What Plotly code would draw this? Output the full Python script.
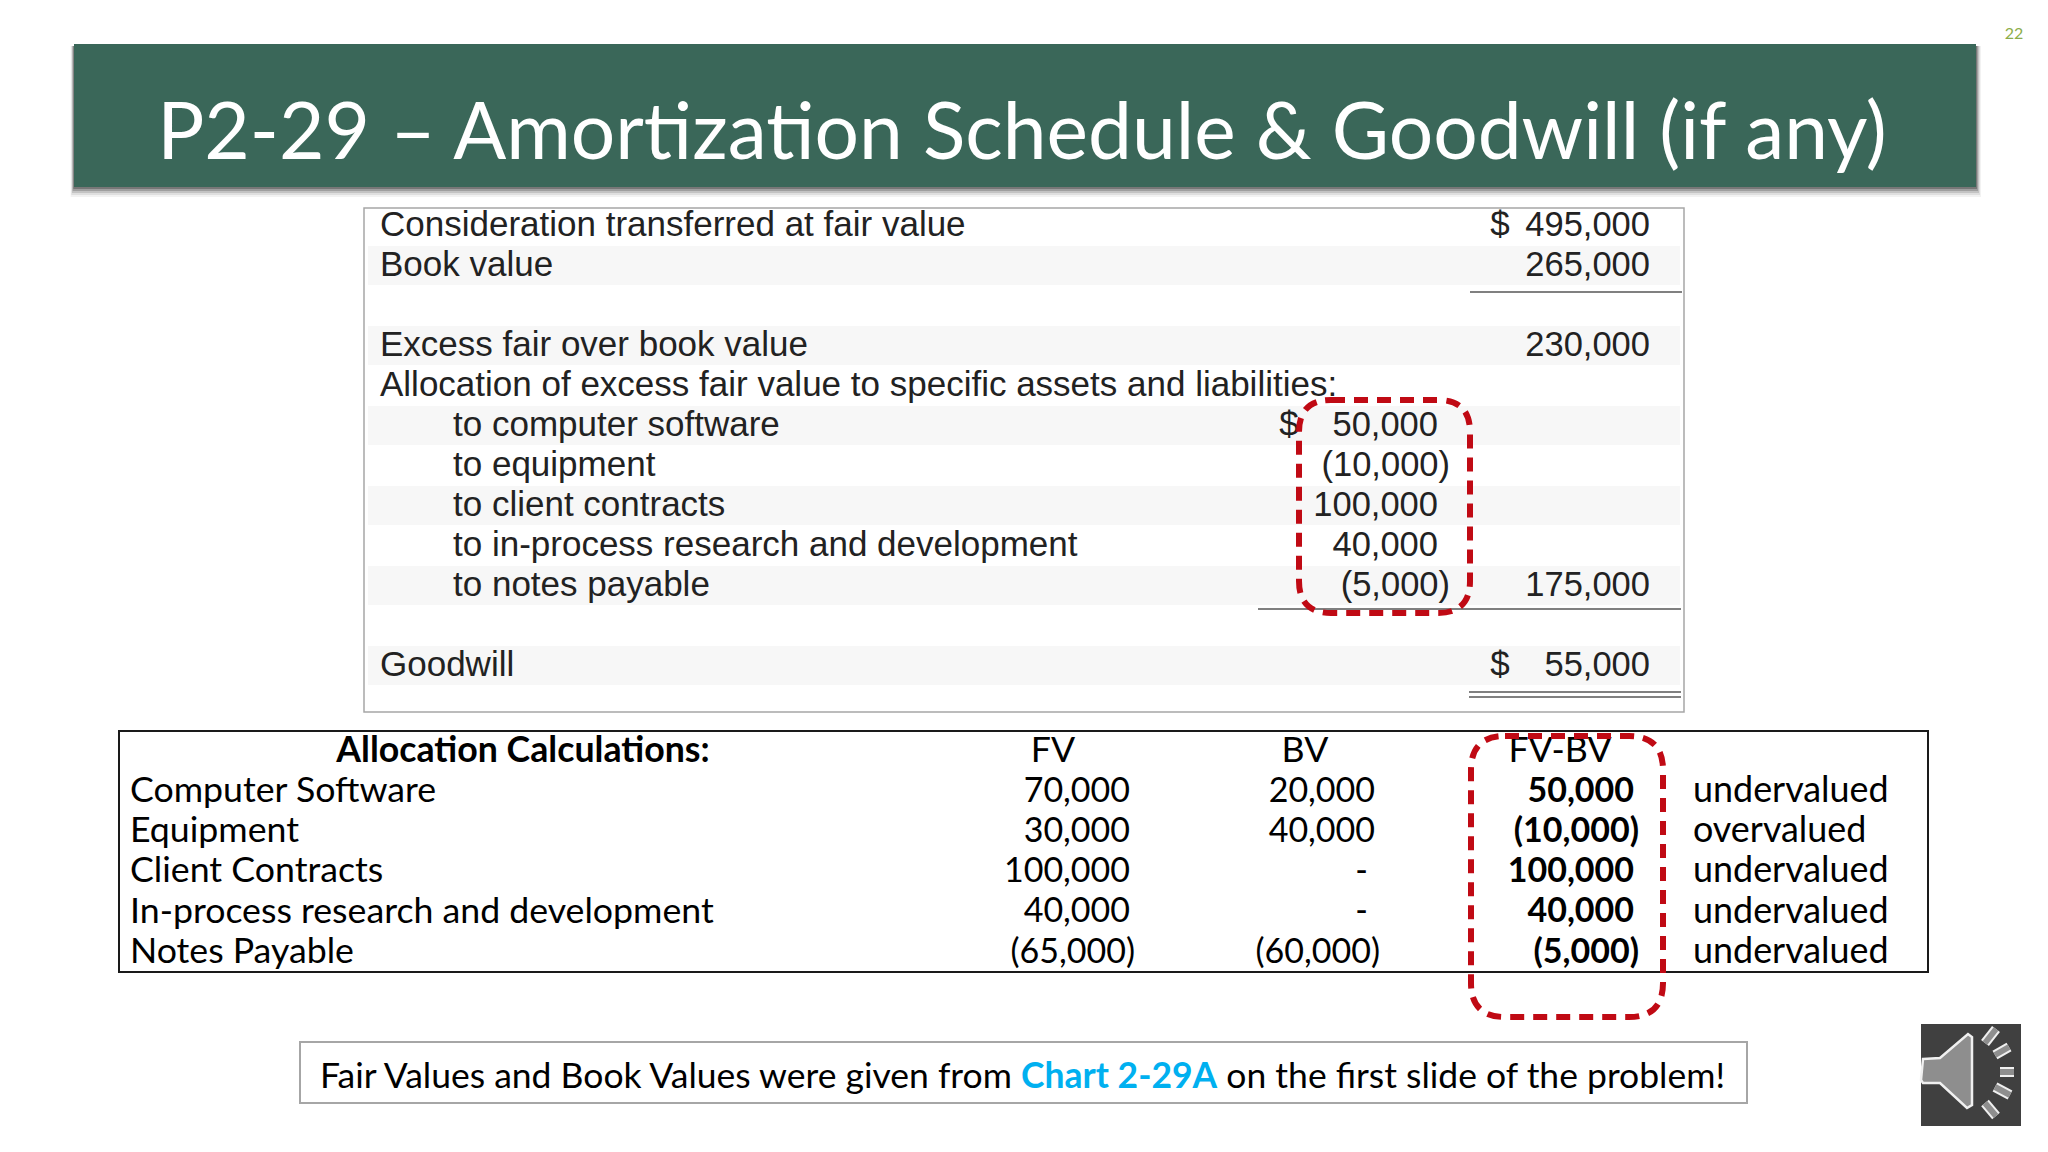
import plotly.graph_objects as go

# Slide texts
title = "P2-29 – Amortization Schedule & Goodwill (if any)"
page_no = "22"

# Screenshot table at the top
sched_labels = ["Consideration transferred at fair value", "Book value", "",
                "Excess fair over book value",
                "Allocation of excess fair value to specific assets and liabilities:",
                "to computer software", "to equipment", "to client contracts",
                "to in-process research and development", "to notes payable", "", "Goodwill"]
sched_inner = [None, None, None, None, None, 50000, -10000, 100000, 40000, -5000, None, None]
sched_outer = [495000, 265000, None, 230000, None, None, None, None, None, 175000, None, 55000]

# Allocation calculations table
alloc_header = ["Allocation Calculations:", "FV", "BV", "FV-BV"]
alloc_items = ["Computer Software", "Equipment", "Client Contracts",
               "In-process research and development", "Notes Payable"]
alloc_fv = [70000, 30000, 100000, 40000, -65000]
alloc_bv = [20000, 40000, None, None, -60000]
alloc_diff = [50000, -10000, 100000, 40000, -5000]
alloc_note = ["undervalued", "overvalued", "undervalued", "undervalued", "undervalued"]

note_parts = ["Fair Values and Book Values were given from ",
              "Chart 2-29A", " on the first slide of the problem!"]

GREEN = "#3A6759"
RED = "#C00A14"
LATO = "Lato"
ARIAL = "Liberation Sans"


def money(v):
    if v is None:
        return ""
    return f"({-v:,})" if v < 0 else f"{v:,}"


def rrect(x0, y0, x1, y1, r):
    return (f"M {x0+r} {y0} L {x1-r} {y0} Q {x1} {y0} {x1} {y0+r} L {x1} {y1-r} "
            f"Q {x1} {y1} {x1-r} {y1} L {x0+r} {y1} Q {x0} {y1} {x0} {y1-r} "
            f"L {x0} {y0+r} Q {x0} {y0} {x0+r} {y0} Z")


fig = go.Figure()


def add_text(xs, ys, texts, size, color="#000000", family=LATO, pos="middle right", bold=False):
    if bold:
        texts = [f"<b>{t}</b>" if t else "" for t in texts]
    fig.add_trace(go.Scatter(x=xs, y=ys, mode="text", text=texts, textposition=pos,
                             textfont=dict(size=size, color=color, family=family),
                             showlegend=False, hoverinfo="skip", cliponaxis=False))


def rect(x0, y0, x1, y1, fill=None, line=None, width=0, layer="below"):
    fig.add_shape(type="rect", x0=x0, y0=y0, x1=x1, y1=y1, layer=layer,
                  fillcolor=fill if fill else "rgba(0,0,0,0)",
                  line=dict(color=line if line else "rgba(0,0,0,0)", width=width))


# Banner with a soft shadow
for off, alpha in [(10, 0.05), (8, 0.08), (6, 0.12), (4, 0.18), (2, 0.25)]:
    rect(74 - off / 3, 46, 1976 + off / 2, 187 + off, fill=f"rgba(0,0,0,{alpha})")
rect(74, 44, 1976, 187, fill=GREEN)
add_text([1022], [139], [title], 78.5, color="#FFFFFF", pos="middle center")
add_text([2014], [35], [page_no], 16, color="#8CAD4A", pos="middle center")

# Schedule screenshot
row_y = [226 + 40.0 * i for i in range(len(sched_labels))]
text_y = [y + 1.5 for y in row_y]
for i in [1, 3, 5, 7, 9, 11]:
    rect(368, row_y[i] - 20, 1680, row_y[i] + 19, fill="#F7F7F7")
rect(364, 208, 1684, 712, line="#A6A6A6", width=1.5)
for x0, x1, y in [(1470, 1682, 292), (1258, 1681, 609), (1469, 1681, 692), (1469, 1681, 697)]:
    fig.add_shape(type="line", x0=x0, x1=x1, y0=y, y1=y, layer="below", line=dict(color="#808080", width=2))

indent = [i in (5, 6, 7, 8, 9) for i in range(len(sched_labels))]
add_text([453 if ind else 380 for ind in indent], text_y, sched_labels, 35, color="#222222", family=ARIAL)


# Negative numbers hang their closing bracket past the digits
def hang(right, vals, w):
    return [right + w if (v is not None and v < 0) else right for v in vals]


add_text(hang(1438, sched_inner, 12), text_y, [money(v) for v in sched_inner], 34.5,
         color="#222222", family=ARIAL, pos="middle left")
add_text(hang(1650, sched_outer, 12), text_y, [money(v) for v in sched_outer], 34.5,
         color="#222222", family=ARIAL, pos="middle left")
add_text([1289, 1500, 1500], [text_y[5], text_y[0], text_y[11]], ["$", "$", "$"], 35,
         color="#222222", family=ARIAL, pos="middle center")

# Allocation table
rect(119, 731, 1928, 972, line="#1A1A1A", width=2)
alloc_y = [793 + 40.25 * i for i in range(len(alloc_items))]
head_y = 753
add_text([523], [head_y], alloc_header[:1], 35.7, pos="middle center", bold=True)
add_text([1053, 1305, 1560], [head_y] * 3, alloc_header[1:], 35.7, pos="middle center")
add_text([130] * len(alloc_items), alloc_y, alloc_items, 35.7)
add_text(hang(1130, alloc_fv, 5), alloc_y, [money(v) for v in alloc_fv], 34, pos="middle left")
bv_x = [1368 if v is None else x for v, x in zip(alloc_bv, hang(1375, alloc_bv, 5))]
add_text(bv_x, alloc_y, [money(v) if v is not None else "-" for v in alloc_bv], 34, pos="middle left")
add_text(hang(1634, alloc_diff, 5), alloc_y, [money(v) for v in alloc_diff], 34, pos="middle left", bold=True)
add_text([1693] * len(alloc_note), alloc_y, alloc_note, 35.9)

# Note box
rect(300, 1042, 1747, 1103, fill="#FFFFFF", line="#A6A6A6", width=2)
note_text = note_parts[0] + f"<b><span style='color:#00B0F0'>{note_parts[1]}</span></b>" + note_parts[2]
add_text([320], [1079], [note_text], 35.5)

# Dashed highlights
for box in [(1299, 400, 1470, 613, 32), (1471, 736, 1663, 1017, 34)]:
    fig.add_shape(type="path", path=rrect(*box[:4], box[4]), layer="above",
                  line=dict(color=RED, width=6, dash="14px,9px"))

# Speaker icon
rect(1921, 1024, 2021, 1126, fill="#404040")
fig.add_shape(type="path", layer="below", fillcolor="#8E8E8E", line=dict(color="#F0F0F0", width=2.5),
              path="M 1923 1059 L 1940 1058 L 1968 1034 L 1972 1037 L 1972 1105 L 1967 1108 "
                   "L 1940 1083 L 1923 1083 L 1921 1080 Z")
for path in ["M 1985 1043 L 1996 1029", "M 1995 1055 L 2009 1047", "M 2000 1072 L 2014 1072",
             "M 1995 1087 L 2010 1095", "M 1985 1103 L 1996 1116"]:
    fig.add_shape(type="path", path=path, layer="below", line=dict(color="#F0F0F0", width=10))
    fig.add_shape(type="path", path=path, layer="below", line=dict(color="#8E8E8E", width=6))

fig.update_layout(
    width=2048, height=1152, margin=dict(l=0, r=0, t=0, b=0),
    paper_bgcolor="#FFFFFF", plot_bgcolor="#FFFFFF",
    xaxis=dict(range=[0, 2048], visible=False, fixedrange=True),
    yaxis=dict(range=[1152, 0], visible=False, fixedrange=True),
)

fig.write_html("out.html", config=dict(displayModeBar=False),
               post_script="document.body.style.margin='0';document.body.style.overflow='hidden';")
